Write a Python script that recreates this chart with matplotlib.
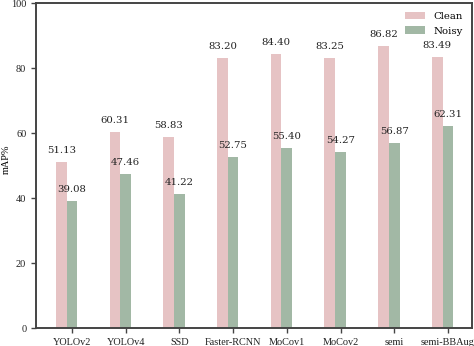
import numpy as np
import matplotlib
matplotlib.use("Agg")
import matplotlib.pyplot as plt

# data
methods = ["YOLOv2", "YOLOv4", "SSD", "Faster-RCNN", "MoCov1", "MoCov2", "semi", "semi-BBAug"]
clean = [51.13, 60.31, 58.83, 83.20, 84.40, 83.25, 86.82, 83.49]
noisy = [39.08, 47.46, 41.22, 52.75, 55.40, 54.27, 56.87, 62.31]

pink = "#e6c3c4"
green = "#a2b8a5"
spine_col = "#444444"

fig = plt.figure(figsize=(4.74, 3.46), dpi=100)
ax = fig.add_axes([0.076, 0.052, 0.92, 0.939])

x = np.arange(len(methods))
w = 0.2
b1 = ax.bar(x - w, clean, w, color=pink, label="Clean")
b2 = ax.bar(x, noisy, w, color=green, label="Noisy")

# value labels on top of the bars
for bars, vals in ((b1, clean), (b2, noisy)):
    for r, v in zip(bars, vals):
        ax.annotate("%.2f" % v, (r.get_x() + r.get_width() / 2, r.get_height()),
                    xytext=(0, 5), textcoords="offset points",
                    ha="center", va="bottom", fontsize=7.3, family="DejaVu Serif",
                    color="#222222")

ax.set_xlim(-0.67, 7.45)
ax.set_ylim(0, 100)
ax.set_xticks(x)
ax.set_xticklabels(methods, family="Liberation Serif", fontsize=7.4)
ax.set_yticks(range(0, 101, 20))
ax.set_yticklabels([str(t) for t in range(0, 101, 20)], family="Liberation Serif", fontsize=7.4)
ax.set_ylabel("mAP%", family="Liberation Serif", fontsize=7.4)
ax.yaxis.set_label_coords(-0.058, 0.52)

for s in ax.spines.values():
    s.set_color(spine_col)
    s.set_linewidth(1.4)
ax.tick_params(colors=spine_col, width=1.0, length=3.5, labelcolor="#222222")

leg = ax.legend(loc="upper right", frameon=False, prop={"family": "DejaVu Serif", "size": 7.3},
                borderaxespad=0.5)

fig.savefig("out.png", dpi=100)
